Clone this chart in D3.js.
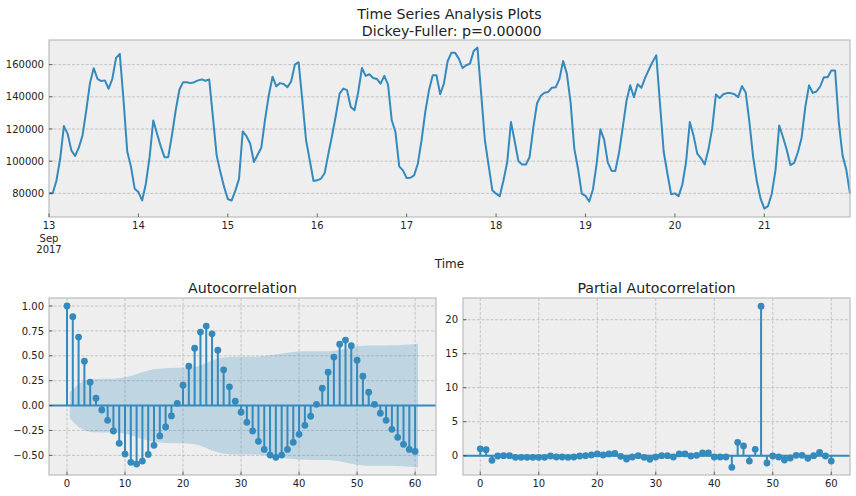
<!DOCTYPE html>
<html><head><meta charset="utf-8">
<script src="https://cdn.jsdelivr.net/npm/d3@7"></script>
<style>
body{margin:0;background:#fff}
svg{display:block}
text{font-family:"DejaVu Sans",sans-serif;fill:#222}
</style>
</head><body>
<svg id="c" width="856" height="496"></svg>
<script>
// ---------- DATA ----------
const seriesStart = new Date(2017, 8, 13, 0);
const hourlyValues = [
  // Sep 13
  80000, 80000, 88000, 101500, 121800, 117000, 106700, 103200, 108400, 116000, 131500, 148500,
  157800, 151200, 149800, 150200, 145000, 151200, 164200, 166700, 138000, 106000, 96600, 82900,
  // Sep 14
  80800, 75600, 86000, 102500, 125300, 117000, 109200, 102500, 102500, 116000, 131500, 144400,
  149100, 149100, 148500, 149100, 150200, 150800, 150000, 150800, 127400, 103600, 93200, 84000,
  // Sep 15
  76500, 75500, 81500, 89000, 118500, 115500, 111000, 99500, 104000, 108500, 126000, 141000,
  152500, 146500, 148500, 148000, 146000, 149500, 160000, 161500, 137800, 113000, 100500, 87700,
  // Sep 16
  88100, 89100, 92600, 104700, 116100, 128500, 142000, 145100, 144100, 133700, 131600, 143000,
  157900, 153000, 154000, 151700, 151100, 148200, 153000, 147600, 125400, 118100, 96800, 94300,
  // Sep 17
  89500, 89700, 91200, 98400, 113000, 130600, 144100, 153400, 153400, 141600, 148200, 162100,
  167300, 167300, 163700, 157900, 159600, 160600, 168500, 170600, 142000, 113000, 97400, 81900,
  // Sep 18
  79800, 78300, 88100, 99500, 124400, 112400, 100000, 97900, 97900, 102600, 120800, 136000,
  140600, 142500, 143000, 145700, 145900, 151000, 162200, 154400, 136500, 107800, 95300, 79800,
  // Sep 19
  78500, 74900, 82400, 98500, 119800, 113400, 99100, 94100, 93900, 105200, 120800, 137300,
  147200, 139700, 147800, 145600, 151800, 156800, 161700, 165800, 135700, 105700, 92200, 79400,
  // Sep 20
  80000, 78300, 85500, 99500, 124300, 116000, 104700, 101800, 98000, 107200, 120200, 141400,
  139200, 141600, 142300, 142300, 141600, 139800, 146700, 142700, 124300, 102600, 87500, 76700,
  // Sep 21
  70500, 72100, 79800, 94300, 122200, 115000, 107200, 97600, 98900, 105400, 114400, 133600,
  147100, 142400, 143300, 146400, 152200, 152200, 156400, 156400, 124000, 103600, 94800, 79800
];
const tsYTicks = [80000, 100000, 120000, 140000, 160000];
const titleLines = ["Time Series Analysis Plots", " Dickey-Fuller: p=0.00000"];
const xAxisLabel = "Time";
const monthLabel = "Sep";
const yearLabel = "2017";

const acfTitle = "Autocorrelation";
const pacfTitle = "Partial Autocorrelation";
const acfValues = [
  1.00, 0.893, 0.688, 0.446, 0.235, 0.074, -0.044, -0.148, -0.255, -0.379,
  -0.487, -0.570, -0.587, -0.557, -0.490, -0.399, -0.305, -0.215, -0.104, 0.023,
  0.205, 0.396, 0.577, 0.738, 0.799, 0.721, 0.557, 0.359, 0.188, 0.044,
  -0.067, -0.168, -0.255, -0.359, -0.440, -0.497, -0.520, -0.497, -0.440, -0.369,
  -0.289, -0.198, -0.107, 0.013, 0.174, 0.336, 0.487, 0.617, 0.658, 0.601,
  0.456, 0.295, 0.134, 0.013, -0.077, -0.148, -0.238, -0.319, -0.389, -0.440, -0.460
];
// confidence half-width for lags 1..60
const acfBand = [
  0.133, 0.215, 0.251, 0.265, 0.268, 0.269, 0.269, 0.270, 0.275, 0.284,
  0.298, 0.317, 0.336, 0.352, 0.364, 0.371, 0.376, 0.378, 0.379, 0.379,
  0.381, 0.388, 0.403, 0.426, 0.452, 0.472, 0.484, 0.488, 0.490, 0.490,
  0.490, 0.491, 0.493, 0.498, 0.505, 0.513, 0.523, 0.531, 0.537, 0.542,
  0.545, 0.546, 0.546, 0.546, 0.547, 0.551, 0.559, 0.571, 0.584, 0.595,
  0.601, 0.604, 0.604, 0.604, 0.604, 0.605, 0.607, 0.610, 0.614, 0.620
];
const pacfValues = [
  1.0, 0.87, -0.69, -0.05, 0.0, 0.0, -0.25, -0.25, -0.25, -0.25,
  -0.25, -0.25, -0.05, -0.2, -0.2, -0.25, -0.2, -0.05, 0.0, 0.1,
  0.25, 0.1, 0.25, 0.34, -0.1, -0.49, -0.2, 0.0, -0.25, -0.54,
  -0.2, 0.0, 0.0, -0.2, 0.25, 0.25, -0.05, 0.05, 0.39, 0.39,
  -0.2, -0.2, -0.2, -1.72, 1.97, 1.43, -0.79, 0.93, 22.0, -1.08,
  -0.05, -0.2, -0.64, -0.34, 0.05, 0.05, -0.39, 0.0, 0.49, -0.05, -0.79
];
const pacfBand = new Array(60).fill(0.133);
const acfYTicks = [-0.5, -0.25, 0, 0.25, 0.5, 0.75, 1.0];
const pacfYTicks = [0, 5, 10, 15, 20];
const lagTicks = [0, 10, 20, 30, 40, 50, 60];

// ---------- STYLE ----------
const C0 = "#348ABD";
const BG = "#eeeeee";
const GRID = "#b2b2b2";
const EDGE = "#bcbcbc";

const svg = d3.select("#c");

function frameAndBg(g, x0, x1, y0, y1) {
  g.append("rect").attr("x", x0).attr("y", y0).attr("width", x1 - x0).attr("height", y1 - y0).attr("fill", BG);
}
function frame(g, x0, x1, y0, y1) {
  g.append("rect").attr("x", x0).attr("y", y0).attr("width", x1 - x0).attr("height", y1 - y0)
    .attr("fill", "none").attr("stroke", EDGE).attr("stroke-width", 1.2);
}
function hGrid(g, ys, x0, x1) {
  g.selectAll(null).data(ys).enter().append("line")
    .attr("x1", x0).attr("x2", x1).attr("y1", d => d).attr("y2", d => d)
    .attr("stroke", GRID).attr("stroke-width", 0.7).attr("stroke-dasharray", "3,1.6");
}
function vGrid(g, xs, y0, y1) {
  g.selectAll(null).data(xs).enter().append("line")
    .attr("y1", y0).attr("y2", y1).attr("x1", d => d).attr("x2", d => d)
    .attr("stroke", GRID).attr("stroke-width", 0.7).attr("stroke-dasharray", "3,1.6");
}
function xTicksMarks(g, xs, yb) {
  g.selectAll(null).data(xs).enter().append("line")
    .attr("x1", d => d).attr("x2", d => d).attr("y1", yb).attr("y2", yb - 3.5)
    .attr("stroke", "#444").attr("stroke-width", 0.8);
}
function yTicksMarks(g, ys, xl) {
  g.selectAll(null).data(ys).enter().append("line")
    .attr("y1", d => d).attr("y2", d => d).attr("x1", xl).attr("x2", xl + 3.5)
    .attr("stroke", "#444").attr("stroke-width", 0.8);
}

// ---------- TIME SERIES ----------
{
  const L = 49, R = 850, T = 40, B = 217;
  const dates = hourlyValues.map((v, i) => d3.timeHour.offset(seriesStart, i));
  const x = d3.scaleTime().domain(d3.extent(dates)).range([L, R]);
  const y = d3.scaleLinear().domain([65300, 175300]).range([B, T]);
  const g = svg.append("g");
  frameAndBg(g, L, R, T, B);
  hGrid(g, tsYTicks.map(y), L, R);
  const line = d3.line().x((d, i) => x(dates[i])).y(d => y(d));
  g.append("path").datum(hourlyValues).attr("d", line)
    .attr("fill", "none").attr("stroke", C0).attr("stroke-width", 2).attr("stroke-linejoin", "round");
  frame(g, L, R, T, B);
  const dayTicks = d3.timeDay.range(seriesStart, d3.timeHour.offset(dates[dates.length - 1], 1));
  xTicksMarks(g, dayTicks.map(x), B);
  yTicksMarks(g, tsYTicks.map(y), L);
  g.selectAll(null).data(dayTicks).enter().append("text")
    .attr("x", d => x(d)).attr("y", B + 11.5).attr("text-anchor", "middle").attr("font-size", 10)
    .text(d => d.getDate());
  g.append("text").attr("x", x(dayTicks[0])).attr("y", B + 24.5).attr("text-anchor", "middle").attr("font-size", 10).text(monthLabel);
  g.append("text").attr("x", x(dayTicks[0])).attr("y", B + 36).attr("text-anchor", "middle").attr("font-size", 10).text(yearLabel);
  g.selectAll(null).data(tsYTicks).enter().append("text")
    .attr("x", L - 5).attr("y", d => y(d) + 3.6).attr("text-anchor", "end").attr("font-size", 10)
    .text(d => d);
  g.append("text").attr("x", (L + R) / 2).attr("y", 268).attr("text-anchor", "middle").attr("font-size", 12).text(xAxisLabel);
  g.append("text").attr("x", (L + R) / 2).attr("y", 19).attr("text-anchor", "middle").attr("font-size", 14.2).attr("xml:space", "preserve").text(titleLines[0]);
  g.append("text").attr("x", (L + R) / 2).attr("y", 35.5).attr("text-anchor", "middle").attr("font-size", 14.2).attr("xml:space", "preserve").text(titleLines[1]);
}

// ---------- CORRELOGRAMS ----------
function correlogram(opts) {
  const { L, R, T, B, xDomain, yDomain, values, band, yTicks, fmt, title } = opts;
  const x = d3.scaleLinear().domain(xDomain).range([L, R]);
  const y = d3.scaleLinear().domain(yDomain).range([B, T]);
  const g = svg.append("g");
  const clipId = "clip" + Math.round(L);
  g.append("clipPath").attr("id", clipId).append("rect").attr("x", L).attr("y", T).attr("width", R - L).attr("height", B - T);
  frameAndBg(g, L, R, T, B);
  hGrid(g, yTicks.map(y), L, R);
  vGrid(g, lagTicks.map(x), T, B);
  const inner = g.append("g").attr("clip-path", `url(#${clipId})`);
  // confidence band: lags 1..60, first shifted to 0.5, last to 60.5
  const bandPts = band.map((h, i) => {
    let lag = i + 1;
    if (i === 0) lag -= 0.5;
    if (i === band.length - 1) lag += 0.5;
    return { lag, h };
  });
  inner.append("path").datum(bandPts)
    .attr("d", d3.area().x(d => x(d.lag)).y0(d => y(-d.h)).y1(d => y(d.h)))
    .attr("fill", C0).attr("fill-opacity", 0.25);
  // stems
  inner.selectAll(null).data(values).enter().append("line")
    .attr("x1", (d, i) => x(i)).attr("x2", (d, i) => x(i)).attr("y1", y(0)).attr("y2", d => y(d))
    .attr("stroke", C0).attr("stroke-width", 2);
  // zero line
  inner.append("line").attr("x1", L).attr("x2", R).attr("y1", y(0)).attr("y2", y(0))
    .attr("stroke", C0).attr("stroke-width", 2);
  // markers
  inner.selectAll(null).data(values).enter().append("circle")
    .attr("cx", (d, i) => x(i)).attr("cy", d => y(d)).attr("r", 3.4).attr("fill", C0);
  frame(g, L, R, T, B);
  xTicksMarks(g, lagTicks.map(x), B);
  yTicksMarks(g, yTicks.map(y), L);
  g.selectAll(null).data(lagTicks).enter().append("text")
    .attr("x", d => x(d)).attr("y", B + 12).attr("text-anchor", "middle").attr("font-size", 10).text(d => d);
  g.selectAll(null).data(yTicks).enter().append("text")
    .attr("x", L - 5).attr("y", d => y(d) + 3.6).attr("text-anchor", "end").attr("font-size", 10).text(fmt);
  g.append("text").attr("x", (L + R) / 2).attr("y", T - 4.8).attr("text-anchor", "middle").attr("font-size", 14.2).text(title);
}

correlogram({
  L: 49, R: 436, T: 298, B: 475, xDomain: [-3.1, 63.6], yDomain: [-0.697, 1.0805],
  values: acfValues, band: acfBand, yTicks: acfYTicks, fmt: d3.format(".2f"), title: acfTitle
});
correlogram({
  L: 463, R: 850, T: 298, B: 475, xDomain: [-2.95, 63.2], yDomain: [-2.845, 23.2],
  values: pacfValues, band: pacfBand, yTicks: pacfYTicks, fmt: d3.format("d"), title: pacfTitle
});
</script>
</body></html>
